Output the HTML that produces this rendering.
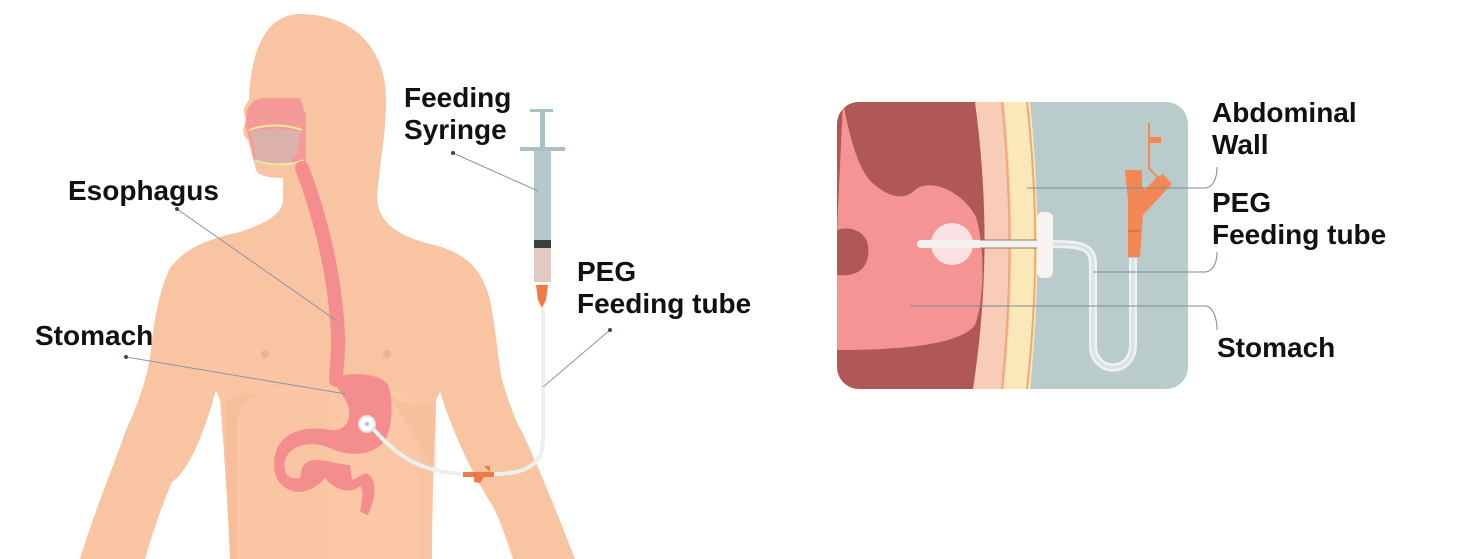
<!DOCTYPE html>
<html><head><meta charset="utf-8"><style>
html,body{margin:0;padding:0;background:#fff;}
svg{display:block;}
text{font-family:"Liberation Sans",sans-serif;font-weight:bold;font-size:28px;fill:#111;}
</style></head><body>
<svg width="1468" height="559" viewBox="0 0 1468 559" xmlns="http://www.w3.org/2000/svg">
<!-- body -->
<path d="M300 14 C350 14 386 45 386 100 C386 140 378 170 377 200 C380 225 400 236 430 244 C465 252 482 268 490 300 C496 330 498 360 502 380 C508 400 515 420 522 432 C540 470 560 520 575 559 L513 559 C505 535 498 515 492 505 C470 470 452 430 440 392 L436 400 C434 450 432 510 432 559 L230 559 C228 510 224 450 220 400 L216 390 C205 430 190 470 172 482 C160 510 152 535 145 559 L80 559 C95 510 112 470 126 430 C140 400 150 370 152 340 C156 310 160 290 170 268 C185 248 210 238 240 232 C270 222 283 212 283 200 L283 178 C270 178 258 176 256 170 C254 160 250 150 248 140 C240 134 244 125 247 118 C240 112 246 104 249 100 C250 60 262 14 300 14 Z" fill="#f9c4a2"/>
<path d="M226 400 C250 392 300 388 330 390 L330 559 L230 559 C228 500 226 450 226 400 Z" fill="#f5b893" opacity="0.45"/>
<path d="M237 420 C240 395 270 388 300 388 L360 388 C400 388 420 395 420 420 L420 559 L237 559 Z" fill="#fbcaa8" opacity="0.6"/>
<path d="M390 398 C415 405 432 410 436 400 L436 470 Z" fill="#f5b893" opacity="0.4"/>
<circle cx="265" cy="354" r="4" fill="#efb08f"/>
<circle cx="387" cy="354" r="4" fill="#efb08f"/>
<!-- mouth/nose -->
<path d="M246 128 C244 110 250 100 262 98 L300 98 L306 115 L306 168 L296 164 C290 160 275 162 262 162 L254 160 C252 150 250 140 246 128 Z" fill="#f59a98"/>
<path d="M250 132 C262 128 280 127 300 132 C300 145 298 155 290 162 C275 165 260 162 256 158 C254 150 252 140 250 132 Z" fill="#dcb0ad"/>
<path d="M249 130 C265 124 285 124 302 130 M255 160 C270 166 290 166 304 160" stroke="#e3ea9a" stroke-width="2" fill="none"/>
<!-- esophagus -->
<path d="M302 168 C318 210 333 265 337 320 C340 350 336 365 336 380" stroke="#f48d8d" stroke-width="14" fill="none" stroke-linecap="round"/>
<!-- stomach + intestine -->
<path d="M334 378 C345 372 380 372 388 385 C394 400 392 430 385 440 C375 455 350 458 330 448 C310 440 290 445 285 460 C282 475 290 480 300 478 L302 468 C310 452 335 465 350 465 L352 480 C360 478 365 468 372 478 C378 490 372 505 368 515 L360 512 C362 500 364 490 360 486 C350 495 335 490 325 478 C315 490 300 495 290 490 C276 485 272 470 275 455 C280 432 305 425 330 430 C345 432 352 420 348 405 C344 395 336 390 334 378 Z" fill="#f48d8d"/>
<!-- tube -->
<path d="M543 308 L543 440 C543 468 520 474 494 474 L470 474 C420 474 395 455 370 425" stroke="#ebeff0" stroke-width="4" fill="none"/>
<circle cx="367" cy="424" r="8" fill="#fff" stroke="#dde3e6" stroke-width="2"/>
<circle cx="367" cy="424" r="2" fill="#9fc3d6"/>
<path d="M463 472 L494 472 L494 477 L463 477 Z M484 466 L490 466 L490 472 Z M474 477 L484 477 L480 483 L474 482 Z" fill="#f07a45"/>
<!-- syringe -->
<rect x="530" y="109" width="23" height="3" fill="#a9c1c3"/>
<rect x="540" y="110" width="5" height="40" fill="#a9c1c3"/>
<rect x="520" y="147" width="45" height="4" fill="#a9c1c3"/>
<rect x="534" y="151" width="17" height="92" fill="#b6c9ca"/>
<rect x="534" y="240" width="17" height="8" fill="#3a3f40"/>
<rect x="534" y="248" width="17" height="34" fill="#e2c9c4"/>
<path d="M536 285 L548 285 L546 300 L542 308 L538 300 Z" fill="#f07a45"/>
<!-- leaders left -->
<g stroke="#8a95a8" stroke-width="1" fill="none">
<line x1="453" y1="153" x2="538" y2="191"/>
<line x1="177" y1="209" x2="337" y2="321"/>
<line x1="126" y1="357" x2="346" y2="394"/>
<line x1="610" y1="330" x2="543" y2="387"/>
</g>
<g fill="#3b4660"><circle cx="453" cy="153" r="2"/><circle cx="177" cy="209" r="2"/><circle cx="126" cy="357" r="2"/><circle cx="610" cy="330" r="2"/></g>
<text x="404" y="107">Feeding</text>
<text x="404" y="139">Syringe</text>
<text x="68" y="200">Esophagus</text>
<text x="35" y="345">Stomach</text>
<text x="577" y="281">PEG</text>
<text x="577" y="313">Feeding tube</text>
<!-- right panel -->
<defs><clipPath id="cp"><rect x="837" y="102" width="351" height="287" rx="22"/></clipPath></defs>
<g clip-path="url(#cp)">
<rect x="837" y="102" width="351" height="287" fill="#b9cccb"/>
<path d="M837 102 L1030 102 C1040 200 1040 290 1030 389 L837 389 Z" fill="#fbe8b8"/>
<path d="M1027 102 C1038 200 1038 290 1027 389" stroke="#eea978" stroke-width="2" fill="none"/>
<path d="M837 102 L1004 102 C1014 200 1014 290 1004 389 L837 389 Z" fill="#f8ccb6"/>
<path d="M1002 102 C1012 200 1012 290 1002 389" stroke="#eea978" stroke-width="2" fill="none"/>
<path d="M837 102 L975 102 C988 200 988 290 973 389 L837 389 Z" fill="#b05757"/>
<path d="M843 102 C850 140 860 175 875 185 C890 198 905 200 915 190 C930 178 960 190 975 215 C985 240 985 300 975 325 C960 345 900 350 837 350 L837 275 C865 278 870 260 868 245 C866 232 850 225 837 230 Z" fill="#f59494"/>
<circle cx="952" cy="244" r="21" fill="#fbe0e3"/>
<rect x="917" y="240" width="123" height="8" rx="4" fill="#f4f1f1"/>
<line x1="980" y1="240" x2="1037" y2="240" stroke="#8e7a70" stroke-width="1"/>
<line x1="980" y1="248" x2="1037" y2="248" stroke="#8e7a70" stroke-width="1"/>
<rect x="1037" y="212" width="16" height="66" rx="6" fill="#f6f3f1"/>
<path d="M1053 244 C1085 244 1093 248 1093 265 L1093 345 C1093 375 1133 375 1133 345 L1133 258" stroke="#eef2f2" stroke-width="8" fill="none"/>
<path d="M1053 244 C1085 244 1093 248 1093 265 L1093 345 C1093 375 1133 375 1133 345 L1133 258" stroke="#c9d7d8" stroke-width="3" fill="none" opacity="0.6"/>
<path d="M1125 170 L1142 170 L1142 186 L1145 190 L1156 178 L1163 174 L1172 184 L1143 215 L1140 257 L1128 257 L1128 200 Z" fill="#f38855"/>
<line x1="1128" y1="231" x2="1140" y2="231" stroke="#c0603a" stroke-width="1"/>
<path d="M1149 123 L1149 168 L1158 178" stroke="#f38855" stroke-width="2" fill="none"/>
<rect x="1149" y="137" width="12" height="6" fill="#f38855"/>
</g>
<g stroke="#7d8a98" stroke-width="1" fill="none">
<path d="M1027 188 L1205 188 C1212 188 1217 180 1217 167"/>
<path d="M1093 272 L1205 272 C1212 272 1217 264 1217 252"/>
<path d="M910 306 L1205 306 C1212 306 1217 316 1217 330"/>
</g>
<text x="1212" y="122">Abdominal</text>
<text x="1212" y="154">Wall</text>
<text x="1212" y="212">PEG</text>
<text x="1212" y="244">Feeding tube</text>
<text x="1217" y="357">Stomach</text>
</svg>
</body></html>
